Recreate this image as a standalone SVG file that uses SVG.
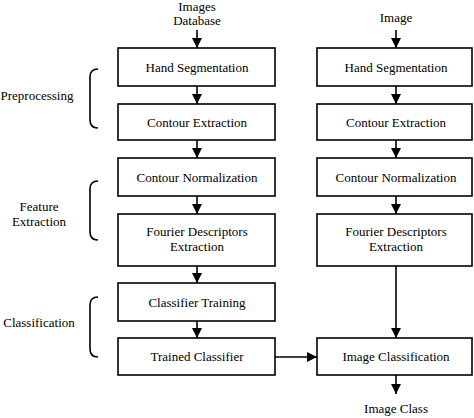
<svg xmlns="http://www.w3.org/2000/svg" width="474" height="418" viewBox="0 0 474 418" font-family="'Liberation Serif', 'Times New Roman', 'DejaVu Serif', serif">
<defs>
<marker id="ah" markerWidth="10" markerHeight="10" refX="10" refY="5" orient="auto" markerUnits="userSpaceOnUse">
<path d="M0,0 L10,5 L0,10 Z" fill="#000"/>
</marker>
<style>
.box{fill:#fff;stroke:#000;stroke-width:1.6}
text{font-family:'Liberation Serif','Times New Roman',serif;font-size:13px;fill:#000;text-anchor:middle}
.c{stroke:#000;stroke-width:1.6;fill:none}
.br{stroke:#000;stroke-width:1.6;fill:none}
</style>
</defs>
<rect width="474" height="418" fill="#fff"/>
<g id="connectors">
<line class="c" x1="197" y1="30" x2="197" y2="48" marker-end="url(#ah)"/>
<line class="c" x1="197" y1="86" x2="197" y2="104" marker-end="url(#ah)"/>
<line class="c" x1="197" y1="140" x2="197" y2="158" marker-end="url(#ah)"/>
<line class="c" x1="197" y1="196" x2="197" y2="214" marker-end="url(#ah)"/>
<line class="c" x1="197" y1="266" x2="197" y2="283" marker-end="url(#ah)"/>
<line class="c" x1="197" y1="321" x2="197" y2="338" marker-end="url(#ah)"/>
<line class="c" x1="396" y1="30" x2="396" y2="48" marker-end="url(#ah)"/>
<line class="c" x1="396" y1="86" x2="396" y2="104" marker-end="url(#ah)"/>
<line class="c" x1="396" y1="140" x2="396" y2="158" marker-end="url(#ah)"/>
<line class="c" x1="396" y1="196" x2="396" y2="214" marker-end="url(#ah)"/>
<line class="c" x1="396" y1="266" x2="396" y2="338" marker-end="url(#ah)"/>
<line class="c" x1="275" y1="357" x2="317" y2="357" marker-end="url(#ah)"/>
<line class="c" x1="396" y1="375" x2="396" y2="394" marker-end="url(#ah)"/>
</g>
<g id="labels">
<text x="197" y="11">Images</text>
<text x="197" y="25">Database</text>
<text x="396" y="22">Image</text>
<text x="396" y="413">Image Class</text>
</g>
<g id="brackets">
<path class="br" d="M98,69 Q90,69 90,77 L90,120 Q90,128 98,128"/>
<path class="br" d="M98,181 Q90,181 90,189 L90,232 Q90,240 98,240"/>
<path class="br" d="M98,297 Q90,297 90,305 L90,349 Q90,357 98,357"/>
<text x="37" y="100">Preprocessing</text>
<text x="39" y="211">Feature</text>
<text x="39" y="226">Extraction</text>
<text x="39" y="327">Classification</text>
</g>
<g id="l-hand"><rect class="box" x="118" y="48" width="157" height="38"/><text x="197" y="71.5">Hand Segmentation</text></g>
<g id="l-contour"><rect class="box" x="118" y="104" width="157" height="36"/><text x="197" y="126.5">Contour Extraction</text></g>
<g id="l-norm"><rect class="box" x="118" y="158" width="157" height="38"/><text x="197" y="181.5">Contour Normalization</text></g>
<g id="l-fourier"><rect class="box" x="118" y="214" width="157" height="52"/><text x="197" y="236">Fourier Descriptors</text><text x="197" y="251">Extraction</text></g>
<g id="l-train"><rect class="box" x="118" y="283" width="157" height="38"/><text x="197" y="306.5">Classifier Training</text></g>
<g id="l-trained"><rect class="box" x="118" y="338" width="157" height="37"/><text x="197" y="361">Trained Classifier</text></g>
<g id="r-hand"><rect class="box" x="317" y="48" width="155" height="38"/><text x="396" y="71.5">Hand Segmentation</text></g>
<g id="r-contour"><rect class="box" x="317" y="104" width="155" height="36"/><text x="396" y="126.5">Contour Extraction</text></g>
<g id="r-norm"><rect class="box" x="317" y="158" width="155" height="38"/><text x="396" y="181.5">Contour Normalization</text></g>
<g id="r-fourier"><rect class="box" x="317" y="214" width="155" height="52"/><text x="396" y="236">Fourier Descriptors</text><text x="396" y="251">Extraction</text></g>
<g id="r-classif"><rect class="box" x="317" y="338" width="155" height="37"/><text x="396" y="361">Image Classification</text></g>
</svg>
